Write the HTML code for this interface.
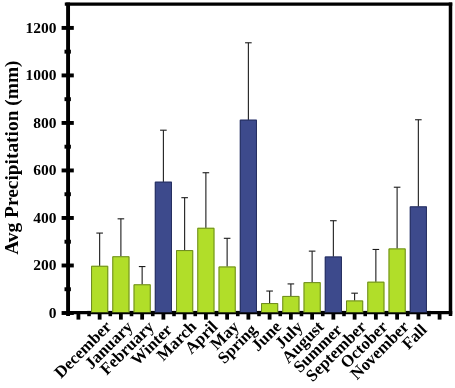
<!DOCTYPE html><html><head><meta charset="utf-8"><title>Avg Precipitation</title><style>html,body{margin:0;padding:0;background:#fff}svg{display:block}text{font-family:"Liberation Serif",serif;font-weight:bold;fill:#000}</style></head><body>
<svg width="455" height="388" viewBox="0 0 455 388">
<rect width="455" height="388" fill="#fff"/>
<line x1="66.2" y1="312.6" x2="452.25" y2="312.6" stroke="#000" stroke-width="3.4"/>
<line x1="78.40" y1="312.60" x2="78.40" y2="319.60" stroke="#000" stroke-width="3.8"/>
<line x1="89.02" y1="310.90" x2="89.02" y2="316.20" stroke="#000" stroke-width="3.6"/>
<line x1="99.65" y1="312.60" x2="99.65" y2="319.60" stroke="#000" stroke-width="3.8"/>
<line x1="110.27" y1="310.90" x2="110.27" y2="316.20" stroke="#000" stroke-width="3.6"/>
<line x1="120.89" y1="312.60" x2="120.89" y2="319.60" stroke="#000" stroke-width="3.8"/>
<line x1="131.52" y1="310.90" x2="131.52" y2="316.20" stroke="#000" stroke-width="3.6"/>
<line x1="142.14" y1="312.60" x2="142.14" y2="319.60" stroke="#000" stroke-width="3.8"/>
<line x1="152.76" y1="310.90" x2="152.76" y2="316.20" stroke="#000" stroke-width="3.6"/>
<line x1="163.39" y1="312.60" x2="163.39" y2="319.60" stroke="#000" stroke-width="3.8"/>
<line x1="174.01" y1="310.90" x2="174.01" y2="316.20" stroke="#000" stroke-width="3.6"/>
<line x1="184.63" y1="312.60" x2="184.63" y2="319.60" stroke="#000" stroke-width="3.8"/>
<line x1="195.26" y1="310.90" x2="195.26" y2="316.20" stroke="#000" stroke-width="3.6"/>
<line x1="205.88" y1="312.60" x2="205.88" y2="319.60" stroke="#000" stroke-width="3.8"/>
<line x1="216.51" y1="310.90" x2="216.51" y2="316.20" stroke="#000" stroke-width="3.6"/>
<line x1="227.13" y1="312.60" x2="227.13" y2="319.60" stroke="#000" stroke-width="3.8"/>
<line x1="237.75" y1="310.90" x2="237.75" y2="316.20" stroke="#000" stroke-width="3.6"/>
<line x1="248.38" y1="312.60" x2="248.38" y2="319.60" stroke="#000" stroke-width="3.8"/>
<line x1="259.00" y1="310.90" x2="259.00" y2="316.20" stroke="#000" stroke-width="3.6"/>
<line x1="269.62" y1="312.60" x2="269.62" y2="319.60" stroke="#000" stroke-width="3.8"/>
<line x1="280.25" y1="310.90" x2="280.25" y2="316.20" stroke="#000" stroke-width="3.6"/>
<line x1="290.87" y1="312.60" x2="290.87" y2="319.60" stroke="#000" stroke-width="3.8"/>
<line x1="301.49" y1="310.90" x2="301.49" y2="316.20" stroke="#000" stroke-width="3.6"/>
<line x1="312.12" y1="312.60" x2="312.12" y2="319.60" stroke="#000" stroke-width="3.8"/>
<line x1="322.74" y1="310.90" x2="322.74" y2="316.20" stroke="#000" stroke-width="3.6"/>
<line x1="333.36" y1="312.60" x2="333.36" y2="319.60" stroke="#000" stroke-width="3.8"/>
<line x1="343.99" y1="310.90" x2="343.99" y2="316.20" stroke="#000" stroke-width="3.6"/>
<line x1="354.61" y1="312.60" x2="354.61" y2="319.60" stroke="#000" stroke-width="3.8"/>
<line x1="365.23" y1="310.90" x2="365.23" y2="316.20" stroke="#000" stroke-width="3.6"/>
<line x1="375.86" y1="312.60" x2="375.86" y2="319.60" stroke="#000" stroke-width="3.8"/>
<line x1="386.48" y1="310.90" x2="386.48" y2="316.20" stroke="#000" stroke-width="3.6"/>
<line x1="397.11" y1="312.60" x2="397.11" y2="319.60" stroke="#000" stroke-width="3.8"/>
<line x1="407.73" y1="310.90" x2="407.73" y2="316.20" stroke="#000" stroke-width="3.6"/>
<line x1="418.35" y1="312.60" x2="418.35" y2="319.60" stroke="#000" stroke-width="3.8"/>
<line x1="428.98" y1="310.90" x2="428.98" y2="316.20" stroke="#000" stroke-width="3.6"/>
<line x1="439.60" y1="312.60" x2="439.60" y2="319.60" stroke="#000" stroke-width="3.8"/>
<line x1="99.65" y1="266.10" x2="99.65" y2="233.07" stroke="#1c1c1c" stroke-width="1.1"/>
<line x1="96.35" y1="233.07" x2="102.95" y2="233.07" stroke="#1c1c1c" stroke-width="1.1"/>
<rect x="91.10" y="265.80" width="17.10" height="46.50" fill="#b1de29"/>
<path d="M91.55 312.3 V266.25 H107.75 V312.3" fill="none" stroke="#64801e" stroke-width="0.9"/>
<line x1="120.89" y1="256.59" x2="120.89" y2="218.82" stroke="#1c1c1c" stroke-width="1.1"/>
<line x1="117.59" y1="218.82" x2="124.19" y2="218.82" stroke="#1c1c1c" stroke-width="1.1"/>
<rect x="112.34" y="256.29" width="17.10" height="56.01" fill="#b1de29"/>
<path d="M112.79 312.3 V256.74 H128.99 V312.3" fill="none" stroke="#64801e" stroke-width="0.9"/>
<line x1="142.14" y1="284.63" x2="142.14" y2="266.57" stroke="#1c1c1c" stroke-width="1.1"/>
<line x1="138.84" y1="266.57" x2="145.44" y2="266.57" stroke="#1c1c1c" stroke-width="1.1"/>
<rect x="133.59" y="284.33" width="17.10" height="27.97" fill="#b1de29"/>
<path d="M134.04 312.3 V284.78 H150.24 V312.3" fill="none" stroke="#64801e" stroke-width="0.9"/>
<line x1="163.39" y1="182.00" x2="163.39" y2="130.20" stroke="#1c1c1c" stroke-width="1.1"/>
<line x1="160.09" y1="130.20" x2="166.69" y2="130.20" stroke="#1c1c1c" stroke-width="1.1"/>
<rect x="154.84" y="181.70" width="17.10" height="130.60" fill="#3d4a8c"/>
<path d="M155.29 312.3 V182.15 H171.49 V312.3" fill="none" stroke="#232b5a" stroke-width="0.9"/>
<line x1="184.63" y1="250.42" x2="184.63" y2="197.68" stroke="#1c1c1c" stroke-width="1.1"/>
<line x1="181.33" y1="197.68" x2="187.94" y2="197.68" stroke="#1c1c1c" stroke-width="1.1"/>
<rect x="176.08" y="250.12" width="17.10" height="62.18" fill="#b1de29"/>
<path d="M176.53 312.3 V250.57 H192.74 V312.3" fill="none" stroke="#64801e" stroke-width="0.9"/>
<line x1="205.88" y1="228.09" x2="205.88" y2="172.73" stroke="#1c1c1c" stroke-width="1.1"/>
<line x1="202.58" y1="172.73" x2="209.18" y2="172.73" stroke="#1c1c1c" stroke-width="1.1"/>
<rect x="197.33" y="227.79" width="17.10" height="84.51" fill="#b1de29"/>
<path d="M197.78 312.3 V228.24 H213.98 V312.3" fill="none" stroke="#64801e" stroke-width="0.9"/>
<line x1="227.13" y1="266.81" x2="227.13" y2="238.30" stroke="#1c1c1c" stroke-width="1.1"/>
<line x1="223.83" y1="238.30" x2="230.43" y2="238.30" stroke="#1c1c1c" stroke-width="1.1"/>
<rect x="218.58" y="266.51" width="17.10" height="45.79" fill="#b1de29"/>
<path d="M219.03 312.3 V266.96 H235.23 V312.3" fill="none" stroke="#64801e" stroke-width="0.9"/>
<line x1="248.38" y1="119.99" x2="248.38" y2="42.78" stroke="#1c1c1c" stroke-width="1.1"/>
<line x1="245.08" y1="42.78" x2="251.68" y2="42.78" stroke="#1c1c1c" stroke-width="1.1"/>
<rect x="239.83" y="119.69" width="17.10" height="192.61" fill="#3d4a8c"/>
<path d="M240.28 312.3 V120.14 H256.48 V312.3" fill="none" stroke="#232b5a" stroke-width="0.9"/>
<line x1="269.62" y1="303.40" x2="269.62" y2="291.04" stroke="#1c1c1c" stroke-width="1.1"/>
<line x1="266.32" y1="291.04" x2="272.92" y2="291.04" stroke="#1c1c1c" stroke-width="1.1"/>
<rect x="261.07" y="303.10" width="17.10" height="9.20" fill="#b1de29"/>
<path d="M261.52 312.3 V303.55 H277.72 V312.3" fill="none" stroke="#64801e" stroke-width="0.9"/>
<line x1="290.87" y1="296.27" x2="290.87" y2="283.92" stroke="#1c1c1c" stroke-width="1.1"/>
<line x1="287.57" y1="283.92" x2="294.17" y2="283.92" stroke="#1c1c1c" stroke-width="1.1"/>
<rect x="282.32" y="295.97" width="17.10" height="16.33" fill="#b1de29"/>
<path d="M282.77 312.3 V296.42 H298.97 V312.3" fill="none" stroke="#64801e" stroke-width="0.9"/>
<line x1="312.12" y1="282.49" x2="312.12" y2="251.13" stroke="#1c1c1c" stroke-width="1.1"/>
<line x1="308.82" y1="251.13" x2="315.42" y2="251.13" stroke="#1c1c1c" stroke-width="1.1"/>
<rect x="303.57" y="282.19" width="17.10" height="30.11" fill="#b1de29"/>
<path d="M304.02 312.3 V282.64 H320.22 V312.3" fill="none" stroke="#64801e" stroke-width="0.9"/>
<line x1="333.36" y1="256.83" x2="333.36" y2="220.72" stroke="#1c1c1c" stroke-width="1.1"/>
<line x1="330.06" y1="220.72" x2="336.66" y2="220.72" stroke="#1c1c1c" stroke-width="1.1"/>
<rect x="324.81" y="256.53" width="17.10" height="55.77" fill="#3d4a8c"/>
<path d="M325.26 312.3 V256.98 H341.46 V312.3" fill="none" stroke="#232b5a" stroke-width="0.9"/>
<line x1="354.61" y1="300.78" x2="354.61" y2="293.18" stroke="#1c1c1c" stroke-width="1.1"/>
<line x1="351.31" y1="293.18" x2="357.91" y2="293.18" stroke="#1c1c1c" stroke-width="1.1"/>
<rect x="346.06" y="300.48" width="17.10" height="11.82" fill="#b1de29"/>
<path d="M346.51 312.3 V300.93 H362.71 V312.3" fill="none" stroke="#64801e" stroke-width="0.9"/>
<line x1="375.86" y1="282.01" x2="375.86" y2="249.47" stroke="#1c1c1c" stroke-width="1.1"/>
<line x1="372.56" y1="249.47" x2="379.16" y2="249.47" stroke="#1c1c1c" stroke-width="1.1"/>
<rect x="367.31" y="281.71" width="17.10" height="30.59" fill="#b1de29"/>
<path d="M367.76 312.3 V282.16 H383.96 V312.3" fill="none" stroke="#64801e" stroke-width="0.9"/>
<line x1="397.11" y1="248.75" x2="397.11" y2="187.22" stroke="#1c1c1c" stroke-width="1.1"/>
<line x1="393.81" y1="187.22" x2="400.41" y2="187.22" stroke="#1c1c1c" stroke-width="1.1"/>
<rect x="388.56" y="248.45" width="17.10" height="63.85" fill="#b1de29"/>
<path d="M389.00 312.3 V248.90 H405.21 V312.3" fill="none" stroke="#64801e" stroke-width="0.9"/>
<line x1="418.35" y1="206.70" x2="418.35" y2="119.75" stroke="#1c1c1c" stroke-width="1.1"/>
<line x1="415.05" y1="119.75" x2="421.65" y2="119.75" stroke="#1c1c1c" stroke-width="1.1"/>
<rect x="409.80" y="206.40" width="17.10" height="105.90" fill="#3d4a8c"/>
<path d="M410.25 312.3 V206.85 H426.45 V312.3" fill="none" stroke="#232b5a" stroke-width="0.9"/>
<line x1="68.07" y1="2.4" x2="68.07" y2="316.0" stroke="#000" stroke-width="3.9"/>
<line x1="450.5" y1="2.4" x2="450.5" y2="316.0" stroke="#000" stroke-width="3.5"/>
<line x1="64.8" y1="4.1" x2="452.25" y2="4.1" stroke="#000" stroke-width="3.3"/>
<line x1="61.6" y1="313.00" x2="73.8" y2="313.00" stroke="#000" stroke-width="3.9"/>
<text x="56.6" y="317.90" font-size="15.5" text-anchor="end">0</text>
<line x1="64.5" y1="289.24" x2="70.9" y2="289.24" stroke="#000" stroke-width="3.9"/>
<line x1="61.6" y1="265.48" x2="73.8" y2="265.48" stroke="#000" stroke-width="3.9"/>
<text x="56.6" y="270.38" font-size="15.5" text-anchor="end">200</text>
<line x1="64.5" y1="241.73" x2="70.9" y2="241.73" stroke="#000" stroke-width="3.9"/>
<line x1="61.6" y1="217.97" x2="73.8" y2="217.97" stroke="#000" stroke-width="3.9"/>
<text x="56.6" y="222.87" font-size="15.5" text-anchor="end">400</text>
<line x1="64.5" y1="194.21" x2="70.9" y2="194.21" stroke="#000" stroke-width="3.9"/>
<line x1="61.6" y1="170.45" x2="73.8" y2="170.45" stroke="#000" stroke-width="3.9"/>
<text x="56.6" y="175.35" font-size="15.5" text-anchor="end">600</text>
<line x1="64.5" y1="146.70" x2="70.9" y2="146.70" stroke="#000" stroke-width="3.9"/>
<line x1="61.6" y1="122.94" x2="73.8" y2="122.94" stroke="#000" stroke-width="3.9"/>
<text x="56.6" y="127.84" font-size="15.5" text-anchor="end">800</text>
<line x1="64.5" y1="99.18" x2="70.9" y2="99.18" stroke="#000" stroke-width="3.9"/>
<line x1="61.6" y1="75.42" x2="73.8" y2="75.42" stroke="#000" stroke-width="3.9"/>
<text x="56.6" y="80.32" font-size="15.5" text-anchor="end">1000</text>
<line x1="64.5" y1="51.67" x2="70.9" y2="51.67" stroke="#000" stroke-width="3.9"/>
<line x1="61.6" y1="27.91" x2="73.8" y2="27.91" stroke="#000" stroke-width="3.9"/>
<text x="56.6" y="32.81" font-size="15.5" text-anchor="end">1200</text>
<text transform="translate(112.35,327.70) rotate(-45)" font-size="16.8" text-anchor="end">December</text>
<text transform="translate(133.59,327.70) rotate(-45)" font-size="16.8" text-anchor="end">January</text>
<text transform="translate(154.84,327.70) rotate(-45)" font-size="16.8" text-anchor="end">February</text>
<text transform="translate(172.89,330.70) rotate(-45)" font-size="16.5" text-anchor="end">Winter</text>
<text transform="translate(197.33,327.70) rotate(-45)" font-size="16.8" text-anchor="end">March</text>
<text transform="translate(218.58,327.70) rotate(-45)" font-size="16.8" text-anchor="end">April</text>
<text transform="translate(239.83,327.70) rotate(-45)" font-size="16.8" text-anchor="end">May</text>
<text transform="translate(257.88,330.70) rotate(-45)" font-size="16.5" text-anchor="end">Spring</text>
<text transform="translate(282.32,327.70) rotate(-45)" font-size="16.8" text-anchor="end">June</text>
<text transform="translate(303.57,327.70) rotate(-45)" font-size="16.8" text-anchor="end">July</text>
<text transform="translate(324.82,327.70) rotate(-45)" font-size="16.8" text-anchor="end">August</text>
<text transform="translate(342.86,330.70) rotate(-45)" font-size="16.5" text-anchor="end">Summer</text>
<text transform="translate(367.31,327.70) rotate(-45)" font-size="16.8" text-anchor="end">September</text>
<text transform="translate(388.56,327.70) rotate(-45)" font-size="16.8" text-anchor="end">October</text>
<text transform="translate(409.81,327.70) rotate(-45)" font-size="16.8" text-anchor="end">November</text>
<text transform="translate(427.85,330.70) rotate(-45)" font-size="16.5" text-anchor="end">Fall</text>
<text transform="translate(17.5,157.6) rotate(-90)" font-size="19.4" text-anchor="middle">Avg Precipitation (mm)</text>
</svg></body></html>
